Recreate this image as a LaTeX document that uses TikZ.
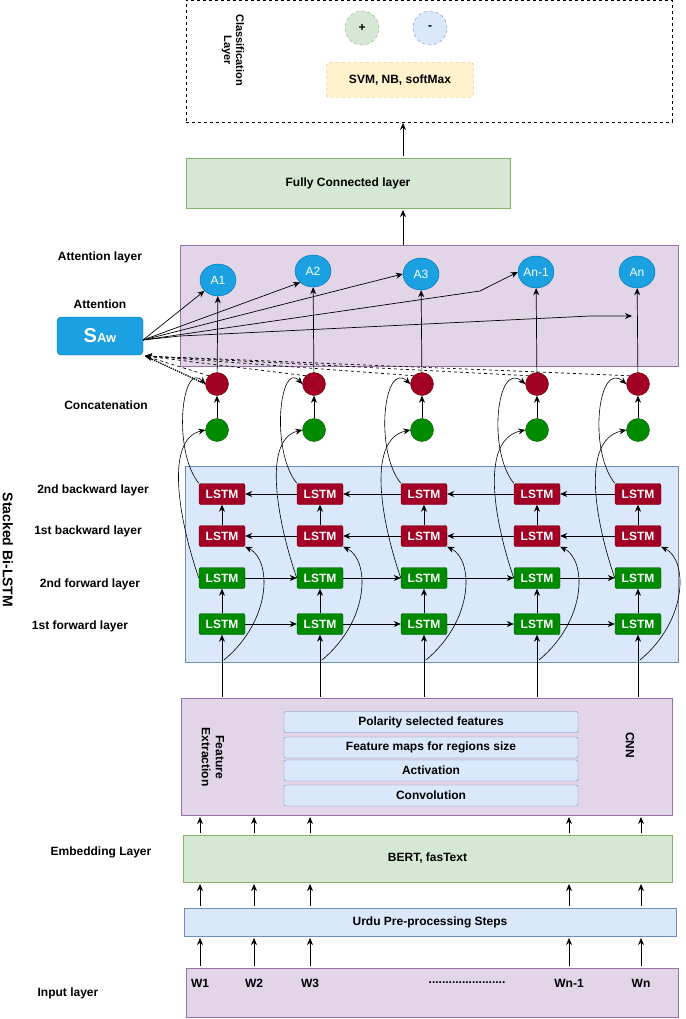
\documentclass[tikz,border=0pt]{standalone}
\usepackage{fontspec}
\setmainfont{Liberation Sans}
\usetikzlibrary{arrows.meta,shapes.geometric}
\definecolor{gfill}{HTML}{D5E8D4}\definecolor{gline}{HTML}{82B366}
\definecolor{pfill}{HTML}{E1D5E7}\definecolor{pline}{HTML}{9673A6}
\definecolor{bfill}{HTML}{DAE8FC}\definecolor{bline}{HTML}{6C8EBF}
\definecolor{yfill}{HTML}{FFF2CC}\definecolor{yline}{HTML}{D6B656}
\definecolor{cfill}{HTML}{1BA1E2}\definecolor{cline}{HTML}{006EAF}
\definecolor{rfill}{HTML}{A20025}\definecolor{rline}{HTML}{6F0000}
\definecolor{ggfill}{HTML}{008A00}\definecolor{ggline}{HTML}{005700}
\begin{document}
\begin{tikzpicture}[x=1pt,y=-1pt,font=\bfseries\fontsize{12}{14}\selectfont,
 >={Stealth[length=7pt,width=6pt]},
 lstmf/.style={draw=ggline,fill=ggfill,text=white,rounded corners=2pt,minimum width=46pt,minimum height=21pt,inner sep=0pt},
 lstmb/.style={draw=rline,fill=rfill,text=white,rounded corners=2pt,minimum width=46pt,minimum height=21pt,inner sep=0pt},
 att/.style={ellipse,draw=cline,fill=cfill,text=white,minimum width=36pt,minimum height=32pt,inner sep=0pt,font=\fontsize{12}{13}\selectfont},
 rc/.style={circle,draw=rline,fill=rfill,minimum size=23pt,inner sep=0pt},
 gc/.style={circle,draw=ggline,fill=ggfill,minimum size=23pt,inner sep=0pt},
 inb/.style={draw=bline,fill=bfill,rounded corners=2pt,minimum width=294pt,minimum height=21pt,inner sep=0pt},
 lbl/.style={font=\bfseries\fontsize{12}{14}\selectfont},
 cv/.style={->,line width=0.6pt}]
\useasboundingbox (0,0) rectangle (685,1019);
% classification
\node[draw,dashed,minimum width=486pt,minimum height=122pt,inner sep=0pt] (cls) at (429,61) {};
\node[rotate=-90,align=center,font=\bfseries\fontsize{11}{12}\selectfont] (clt) at (233,50) {Classification\\Layer};
\node[circle,dashed,draw=gline,fill=gfill,minimum size=34pt,inner sep=0pt] (pl) at (362,28) {+};
\node[circle,dashed,draw=bline,fill=bfill,minimum size=34pt,inner sep=0pt] (mi) at (430,28) {-};
\node[dashed,draw=yline,fill=yfill,rounded corners=3pt,minimum width=147pt,minimum height=35pt] (svm) at (400,80) {SVM, NB, softMax};
% FC
\node[minimum width=324pt,minimum height=50pt,draw=gline,fill=gfill] (fc) at (348,183) {Fully Connected layer};
\draw[->,line width=0.7pt] (403,156) -- (403,123);
\draw[->,line width=0.7pt] (403,246) -- (403,210);
% attention
\node[draw=pline,fill=pfill,minimum width=498pt,minimum height=121pt,inner sep=0pt,line width=0.8pt] (attbox) at (429,306) {};
\node[lbl] (l1) at (100,257) {Attention layer};
\node[lbl] (l2) at (100,304) {Attention};
\node[lbl] (l3) at (106,405) {Concatenation};
\node[draw=cline,fill=cfill,rounded corners=4pt,minimum width=86pt,minimum height=38pt,text=white,font=\bfseries\fontsize{20}{22}\selectfont] (saw) at (100,336) {S\fontsize{13}{14}\selectfont Aw};
\foreach \n/\x/\y/\t in {1/218/280/A1,2/313/271/A2,3/421/274/A3,4/536/272/An-1,5/637/272/An}
  \node[att] (a\n) at (\x,\y) {\t};
\foreach \n/\x in {1/217,2/314,3/422,4/537,5/638}{
  \node[rc] (r\n) at (\x,384) {};
  \node[gc] (g\n) at (\x,430) {};
  \draw[->,line width=0.7pt] (g\n) -- (r\n);
  \draw[->,line width=0.7pt] (r\n) -- (a\n);
}
\coordinate (s0) at (143,340);
\draw[->,line width=0.7pt] (s0) -- (a1);
\draw[->,line width=0.7pt] (s0) -- (a2.south west);
\draw[->,line width=0.7pt] (s0) -- (367,283) -- (a3.west);
\draw[->,line width=0.7pt] (s0) -- (480,291) -- (a4.west);
\draw[->,line width=0.7pt] (s0) -- (180,336) -- (590,316) -- (632,316);
\coordinate (s1) at (145,356);
\foreach \n in {1,...,5}
  \draw[->,dashed,line width=0.7pt] (r\n.north west) -- (s1);
\draw[densely dotted,line width=1.3pt] (r1.west) -- (s1);
% Bi-LSTM
\node[draw=bline,fill=bfill,minimum width=493pt,minimum height=196pt,inner sep=0pt,line width=0.8pt] (bil) at (431.5,564) {};
\node[rotate=-90,font=\bfseries\fontsize{14}{16}\selectfont] (sb) at (8,550) {Stacked Bi-LSTM};
\node[lbl] (t1) at (93,490) {2nd backward layer};
\node[lbl] (t2) at (88,531) {1st backward layer};
\node[lbl] (t3) at (90,584) {2nd forward layer};
\node[lbl] (t4) at (80,626) {1st forward layer};
\foreach \n/\x in {1/222,2/320,3/424,4/537,5/638}{
  \node[lstmb] (bb\n) at (\x,494) {LSTM};
  \node[lstmb] (b\n) at (\x,536) {LSTM};
  \node[lstmf] (ff\n) at (\x,578) {LSTM};
  \node[lstmf] (f\n) at (\x,624) {LSTM};
  \draw[->,line width=0.7pt] (f\n) -- (ff\n);
  \draw[->,line width=0.7pt] (b\n) -- (bb\n);
  \coordinate (in\n) at (\x,697);
  \draw[->,line width=0.7pt] (in\n) -- (f\n);
  \draw[cv] (\x+2,660) .. controls (\x+50,620) and (\x+50,560) .. (b\n.south east);
  \draw[cv] (ff\n.west) .. controls (\x-40,530) and (\x-60,440) .. (g\n.west);
  \draw[cv] (bb\n.north west) .. controls (\x-50,450) and (\x-40,360) .. (r\n.west);
}
\foreach \a/\b in {1/2,2/3,3/4,4/5}{
  \draw[->,line width=0.7pt] (f\a) -- (f\b);
  \draw[->,line width=0.7pt] (ff\a) -- (ff\b);
  \draw[->,line width=0.7pt] (b\b) -- (b\a);
  \draw[->,line width=0.7pt] (bb\b) -- (bb\a);
}
% feature extraction
\node[draw=pline,fill=pfill,minimum width=491pt,minimum height=117pt,inner sep=0pt,line width=0.8pt] (fe) at (426.5,756.5) {};
\node[rotate=-90,align=center,lbl] (fet) at (213,757) {Feature\\Extraction};
\node[rotate=-90,lbl] (cnn) at (630,745) {CNN};
\node[inb] (p1) at (431,722) {Polarity selected features};
\node[inb] (p2) at (431,747.5) {Feature maps for regions size};
\node[inb] (p3) at (431,770.5) {Activation};
\node[inb] (p4) at (431,795.5) {Convolution};
% embedding
\node[lbl] (el) at (101,852) {Embedding Layer};
\node[draw=gline,fill=gfill,minimum width=489pt,minimum height=47pt,inner sep=0pt] (bert) at (427.5,858.5) {BERT, fasText};
\node[draw=bline,fill=bfill,minimum width=492pt,minimum height=28pt,inner sep=0pt] (urdu) at (430,922) {Urdu Pre-processing Steps};
\node[draw=pline,fill=pfill,minimum width=492pt,minimum height=49pt,inner sep=0pt] (inp) at (432,992.5) {};
\node[lbl] (il) at (68,993) {Input layer};
\foreach \x/\t in {200/W1,254/W2,310/W3,569/Wn-1,641/Wn}{
  \node[lbl] at (\x,983) {\t};
  \draw[->,line width=0.7pt] (\x,966) -- (\x,938);
  \draw[->,line width=0.7pt] (\x,906) -- (\x,884);
  \draw[->,line width=0.7pt] (\x,833) -- (\x,817);
}
\node[lbl] at (467,983) {.......................};
\end{tikzpicture}
\end{document}
